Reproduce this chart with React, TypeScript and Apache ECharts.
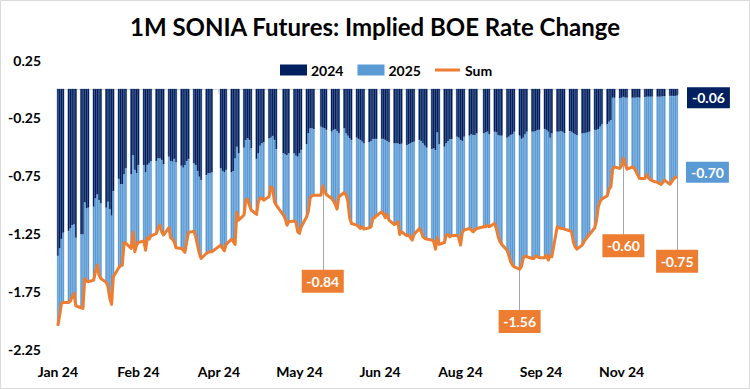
import React, { useEffect, useRef } from "react";
import * as echarts from "echarts";

// ---- Data (business days, Jan 2 2024 -> Dec 13 2024) ----
const monthNames = ["Jan", "Feb", "Mar", "Apr", "May", "Jun", "Jul", "Aug", "Sep", "Oct", "Nov", "Dec"];
const startDate = "2024-01-02";
const endDate = "2024-12-13";
const holidays = ["2024-03-29", "2024-04-01", "2024-05-06", "2024-05-27", "2024-08-26"];

// Implied change priced by 2024 contracts (one value per trading day)
const values2024 = [
  -1.446, -1.380, -1.299, -1.245,
  -1.230, -1.207, -1.178, -1.172, -1.288,
  -1.259, -1.259, -0.982, -1.034, -1.028,
  -1.020, -0.948, -0.913, -0.962, -0.991,
  -1.028, -0.976, -1.040, -1.097, -0.884,
  -0.780, -0.826, -0.826, -0.740, -0.688,
  -0.740, -0.573, -0.702, -0.731, -0.659,
  -0.659, -0.723, -0.659, -0.645, -0.625,
  -0.625, -0.601, -0.601, -0.616, -0.653,
  -0.587, -0.625, -0.630, -0.607, -0.636,
  -0.665, -0.682, -0.659, -0.625, -0.607,
  -0.645, -0.659, -0.711, -0.760, -0.789,
  -0.746, -0.731, -0.731, -0.723,
  -0.688, -0.711, -0.723, -0.702,
  -0.723, -0.711, -0.601, -0.501, -0.558,
  -0.509, -0.443, -0.428, -0.443, -0.515,
  -0.607, -0.558, -0.492, -0.472, -0.463,
  -0.428, -0.423, -0.408, -0.443, -0.521,
  -0.558, -0.567, -0.573, -0.558,
  -0.558, -0.578, -0.587, -0.558, -0.529,
  -0.480, -0.385, -0.342, -0.342, -0.348,
  -0.328, -0.336, -0.342, -0.356,
  -0.371, -0.356, -0.348, -0.365, -0.385,
  -0.342, -0.385, -0.405, -0.428, -0.443,
  -0.423, -0.434, -0.443, -0.457, -0.472,
  -0.463, -0.452, -0.434, -0.434, -0.434,
  -0.434, -0.434, -0.443, -0.452, -0.463,
  -0.472, -0.472, -0.472, -0.480, -0.475,
  -0.486, -0.480, -0.472, -0.463, -0.457,
  -0.443, -0.452, -0.472, -0.492, -0.509,
  -0.521, -0.515, -0.532, -0.377, -0.480,
  -0.501, -0.472, -0.452, -0.437, -0.434,
  -0.414, -0.423, -0.443, -0.452, -0.414,
  -0.405, -0.394, -0.400, -0.400, -0.385,
  -0.385, -0.377, -0.371, -0.394,
  -0.371, -0.377, -0.400, -0.405, -0.405,
  -0.423, -0.414, -0.400, -0.394, -0.371,
  -0.405, -0.434, -0.423, -0.394, -0.371,
  -0.371, -0.371, -0.365, -0.356, -0.356,
  -0.348, -0.356, -0.371, -0.423, -0.385,
  -0.371, -0.371, -0.365, -0.371, -0.385,
  -0.365, -0.371, -0.385, -0.394, -0.400,
  -0.385, -0.385, -0.380, -0.377, -0.371,
  -0.356, -0.356, -0.348, -0.328, -0.307,
  -0.307, -0.284, -0.270, -0.077, -0.077,
  -0.082, -0.077, -0.070, -0.077, -0.077,
  -0.077, -0.077, -0.077, -0.074, -0.077,
  -0.071, -0.068, -0.068, -0.068, -0.068,
  -0.068, -0.068, -0.068, -0.065, -0.065,
  -0.062, -0.062, -0.062, -0.062, -0.058,
];

// Implied change priced by 2025 contracts
const values2025 = [
  -0.603, -0.577, -0.557, -0.603,
  -0.617, -0.629, -0.620, -0.597, -0.588,
  -0.634, -0.640, -0.658, -0.629, -0.640,
  -0.634, -0.634, -0.611, -0.649, -0.649,
  -0.646, -0.735, -0.773, -0.767, -0.741,
  -0.767, -0.704, -0.698, -0.588, -0.649,
  -0.640, -0.669, -0.706, -0.620, -0.669,
  -0.657, -0.672, -0.629, -0.655, -0.646,
  -0.626, -0.606, -0.577, -0.620, -0.611,
  -0.614, -0.663, -0.669, -0.715, -0.738,
  -0.715, -0.712, -0.755, -0.698, -0.634,
  -0.585, -0.620, -0.640, -0.663, -0.678,
  -0.678, -0.683, -0.678, -0.686,
  -0.663, -0.669, -0.678, -0.643,
  -0.577, -0.611, -0.744, -0.568, -0.577,
  -0.582, -0.519, -0.525, -0.562, -0.533,
  -0.479, -0.418, -0.450, -0.476, -0.499,
  -0.505, -0.424, -0.453, -0.533, -0.484,
  -0.533, -0.554, -0.606, -0.591,
  -0.585, -0.577, -0.649, -0.692, -0.663,
  -0.626, -0.672, -0.600, -0.582, -0.571,
  -0.591, -0.504, -0.542, -0.557,
  -0.577, -0.614, -0.652, -0.675, -0.548,
  -0.554, -0.533, -0.565, -0.686, -0.721,
  -0.755, -0.758, -0.764, -0.735, -0.741,
  -0.738, -0.741, -0.686, -0.681, -0.663,
  -0.629, -0.652, -0.672, -0.634, -0.672,
  -0.701, -0.692, -0.678, -0.779, -0.761,
  -0.784, -0.784, -0.816, -0.845, -0.802,
  -0.764, -0.784, -0.807, -0.802, -0.790,
  -0.787, -0.807, -0.854, -0.911, -0.865,
  -0.828, -0.793, -0.807, -0.842, -0.836,
  -0.851, -0.865, -0.908, -0.790, -0.807,
  -0.802, -0.828, -0.836, -0.822, -0.822,
  -0.807, -0.816, -0.807, -0.799,
  -0.793, -0.830, -0.879, -0.917, -0.940,
  -0.972, -1.029, -1.096, -1.130, -1.168,
  -1.155, -1.104, -1.044, -1.050, -1.081,
  -1.096, -1.096, -1.078, -1.096, -1.104,
  -1.113, -1.081, -1.110, -1.021, -1.067,
  -0.822, -0.830, -0.842, -0.836, -0.828,
  -0.862, -0.865, -0.937, -0.972, -0.986,
  -0.966, -0.937, -0.920, -0.903, -0.888,
  -0.845, -0.779, -0.672, -0.643, -0.646,
  -0.617, -0.583, -0.577, -0.617, -0.597,
  -0.606, -0.588, -0.530, -0.577, -0.617,
  -0.597, -0.611, -0.634, -0.672, -0.698,
  -0.704, -0.672, -0.701, -0.718, -0.727,
  -0.741, -0.750, -0.758, -0.744, -0.724,
  -0.764, -0.741, -0.718, -0.706, -0.696,
];

// Dates of annotated Sum points and where their callout boxes sit (value units)
const calloutDates = ["2024-05-29", "2024-09-16", "2024-11-13", "2024-12-13"];
const calloutBoxY = [-1.663, -2.013, -1.356, -1.49];

const NAVY = "#002060";
const LIGHT = "#5B9BD5";
const ORANGE = "#ED7D31";
const FONT = "Lato";

function buildCategories(): string[] {
  const out: string[] = [];
  const s = new Date(startDate + "T00:00:00Z");
  const e = new Date(endDate + "T00:00:00Z");
  for (let d = new Date(s); d <= e; d.setUTCDate(d.getUTCDate() + 1)) {
    out.push(d.toISOString().slice(0, 10));
  }
  return out;
}

export default function App() {
  const ref = useRef<HTMLDivElement>(null);

  useEffect(() => {
    if (!ref.current) return;
    const chart = echarts.init(ref.current, null, { renderer: "svg" });

    const cats = buildCategories();
    const d24: (number | null)[] = [];
    const d25: (number | null)[] = [];
    let k = 0;
    cats.forEach((c) => {
      const wd = new Date(c + "T00:00:00Z").getUTCDay();
      if (wd === 0 || wd === 6 || holidays.includes(c) || k >= values2024.length) {
        d24.push(null);
        d25.push(null);
      } else {
        d24.push(values2024[k]);
        d25.push(values2025[k]);
        k++;
      }
    });
    const sum = d24.map((v, i) => (v == null || d25[i] == null ? null : Math.round((v + (d25[i] as number)) * 1000) / 1000));
    const lastIdx = cats.length - 1;

    const boxLabel = (bg: string) => ({
      show: true,
      position: "right" as const,
      backgroundColor: bg,
      color: "#fff",
      fontFamily: FONT,
      fontWeight: "bold" as const,
      fontSize: 14,
      padding: [4, 5, 3, 5],
      formatter: (p: any) => Number(p.value).toFixed(2),
    });

    const bar24: any[] = d24.slice();
    bar24[lastIdx] = { value: d24[lastIdx], label: { ...boxLabel(NAVY), distance: 9, offset: [0, 5.5] } };
    const bar25: any[] = d25.slice();
    bar25[lastIdx] = { value: d25[lastIdx], label: { ...boxLabel(LIGHT), distance: 8, offset: [0, 36.5] } };

    const markLines = calloutDates.map((dt, i) => {
      const idx = cats.indexOf(dt);
      return [{ coord: [dt, sum[idx]] }, { coord: [dt, calloutBoxY[i]] }];
    });
    const markPoints = calloutDates.map((dt, i) => {
      const idx = cats.indexOf(dt);
      return {
        coord: [dt, calloutBoxY[i]],
        value: sum[idx],
        label: { formatter: Number(sum[idx]).toFixed(2) },
      };
    });

    const labelFmt = (v: string) => monthNames[Number(v.slice(5, 7)) - 1] + " " + v.slice(2, 4);

    chart.setOption({
      animation: false,
      backgroundColor: "#fff",
      textStyle: { fontFamily: FONT },
      title: {
        text: "1M SONIA Futures: Implied BOE Rate Change",
        left: "center",
        top: 9,
        textStyle: { fontFamily: FONT, fontWeight: "bold", fontSize: 24, color: "#000" },
      },
      legend: {
        data: [
          { name: "2024", icon: "rect" },
          { name: "2025", icon: "rect" },
          { name: "Sum", icon: "path://M0,0H25V3H0Z", itemStyle: { color: ORANGE } },
        ],
        left: 275,
        top: 58,
        itemWidth: 25,
        itemHeight: 9,
        itemGap: 14,
        selectedMode: false,
        textStyle: { fontFamily: FONT, fontWeight: "bold", fontSize: 14, color: "#000" },
      },
      grid: { left: 57, right: 72, top: 60, bottom: 40, outerBoundsMode: "none" },
      xAxis: [
        {
          type: "category",
          data: cats,
          position: "bottom",
          boundaryGap: true,
          axisLine: { show: false, onZero: false },
          axisTick: { show: false },
          axisLabel: {
            interval: 44,
            formatter: labelFmt,
            fontFamily: FONT,
            fontWeight: "bold",
            fontSize: 14,
            color: "#000",
            margin: 15,
          },
          splitLine: { show: false },
        },
        {
          type: "category",
          data: cats,
          position: "bottom",
          boundaryGap: true,
          axisLine: { show: true, onZero: true, lineStyle: { color: "#D9D9D9", width: 1 } },
          axisTick: { show: true, interval: 44, length: 5, lineStyle: { color: "#D9D9D9" } },
          axisLabel: { show: false },
          splitLine: { show: false },
        },
      ],
      yAxis: {
        type: "value",
        min: -2.25,
        max: 0.25,
        interval: 0.5,
        axisLine: { show: false },
        axisTick: { show: false },
        splitLine: { show: false },
        axisLabel: {
          formatter: (v: number) => v.toFixed(2),
          fontFamily: FONT,
          fontWeight: "bold",
          fontSize: 14,
          color: "#000",
          margin: 16,
        },
      },
      series: [
        {
          name: "2024",
          type: "bar",
          stack: "rate",
          data: bar24,
          barCategoryGap: "0%",
          barGap: "0%",
          itemStyle: { color: NAVY, borderColor: NAVY, borderWidth: 0.4 },
          silent: true,
        },
        {
          name: "2025",
          type: "bar",
          stack: "rate",
          data: bar25,
          barCategoryGap: "0%",
          barGap: "0%",
          itemStyle: { color: LIGHT, borderColor: LIGHT, borderWidth: 0.4 },
          silent: true,
        },
        {
          name: "Sum",
          type: "line",
          data: sum,
          connectNulls: true,
          symbol: "none",
          showSymbol: false,
          itemStyle: { color: ORANGE },
          lineStyle: { color: ORANGE, width: 3, join: "round" },
          z: 5,
          silent: true,
          markLine: {
            silent: true,
            symbol: ["none", "none"],
            label: { show: false },
            lineStyle: { color: "#A6A6A6", width: 1, type: "solid" },
            data: markLines,
          },
          markPoint: {
            silent: true,
            symbol: "rect",
            symbolSize: [42, 23],
            itemStyle: { color: ORANGE },
            label: {
              show: true,
              position: "inside",
              color: "#fff",
              fontFamily: FONT,
              fontWeight: "bold",
              fontSize: 14,
            },
            data: markPoints,
          },
        },
      ],
      graphic: [
        {
          type: "rect",
          shape: { x: 0.5, y: 0.5, width: 749, height: 388 },
          style: { fill: "none", stroke: "#D9D9D9", lineWidth: 1 },
          silent: true,
        },
      ],
    });

    return () => chart.dispose();
  }, []);

  return (
    <div
      ref={ref}
      style={{ position: "absolute", left: 0, top: 0, width: 750, height: 389, background: "#fff" }}
    />
  );
}
